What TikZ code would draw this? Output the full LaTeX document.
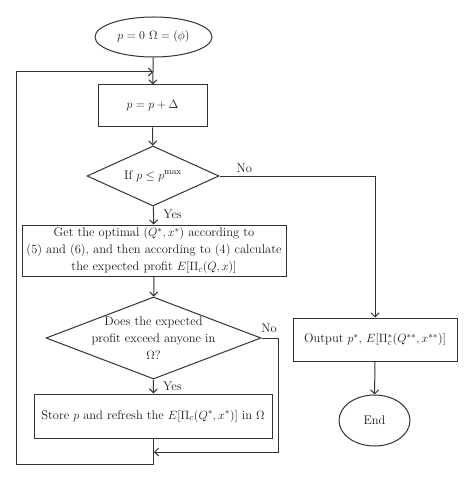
\documentclass[tikz,border=0pt]{standalone}
\usepackage{amsmath}
\usepackage{amssymb}
\usetikzlibrary{arrows.meta,shapes.geometric}

\begin{document}
\begin{tikzpicture}[x=1pt,y=-1pt,
	line width=1pt,
	every node/.style={font=\fontsize{12.5}{17}\selectfont,text=black!90},
	box/.style={rectangle,draw=black!80,minimum width=#1,align=center,inner sep=0pt},
	oval/.style={ellipse,draw=black!80,inner sep=0pt},
	decision/.style={diamond,draw=black!80,inner sep=0pt},
	arr/.style={draw=black!80,-{Straight Barb[length=4pt,width=8pt]}}]
	\useasboundingbox (0,0) rectangle (474,481);
	\node[oval,minimum width=117pt,minimum height=40pt] (start) at (153.5,37) {$p = 0\ \Omega = (\phi)$};
	\node[box=109pt,minimum height=42pt] (inc) at (152.5,106) {$p = p + \Delta$};
	\node[decision,minimum width=132pt,minimum height=60pt,aspect=2.2] (cond1) at (153,176) {If $p \le p^{\max}$};
	\node[box=264pt,minimum height=51pt] (calc) at (154,250.5) {Get the optimal $(Q^{*},x^{*})$ according to\\(5) and (6), and then according to (4) calculate\\the expected profit $E[\Pi_c(Q,x)]$};
	\node[decision,minimum width=215pt,minimum height=82pt,aspect=2.62] (cond2) at (153.5,338) {};
	\node[align=center] (cond2text) at (153.5,338) {Does the expected\\profit exceed anyone in\\$\Omega$?};
	\node[box=238pt,minimum height=44pt] (store) at (153,416) {Store $p$ and refresh the $E[\Pi_c(Q^{*},x^{*})]$ in $\Omega$};
	\node[box=164pt,minimum height=43pt] (out) at (375,339.5) {Output $p^{*}$, $E[\Pi_c^{*}(Q^{**},x^{**})]$};
	\node[oval,minimum width=71pt,minimum height=51pt] (endn) at (374.5,420.5) {End};
	\coordinate (join) at (153,72);
	\coordinate (lb) at (16,464);
	\coordinate (noright) at (278,338);
	\coordinate (ret) at (154,452);

	\draw[arr] (start) -- (inc);
	\draw[arr] (inc) -- (cond1);
	\draw[arr] (cond1) -- node[right,pos=0.45,xshift=6pt] {Yes} (calc);
	\draw[arr] (cond1.east) -| node[pos=0.08,above] {No} (out.north);
	\draw[arr] (calc) -- (cond2);
	\draw[arr] (cond2.south) -- node[right,pos=0.5,xshift=6pt] {Yes} (store);
	\draw[arr] (cond2.east) -- (noright) |- (ret);
	\node[above] at (noright) [xshift=-9pt,yshift=2pt] {No};
	\draw[arr] (store.south) |- (lb) |- (join);
	\draw[arr] (out) -- (endn);
\end{tikzpicture}
\end{document}
